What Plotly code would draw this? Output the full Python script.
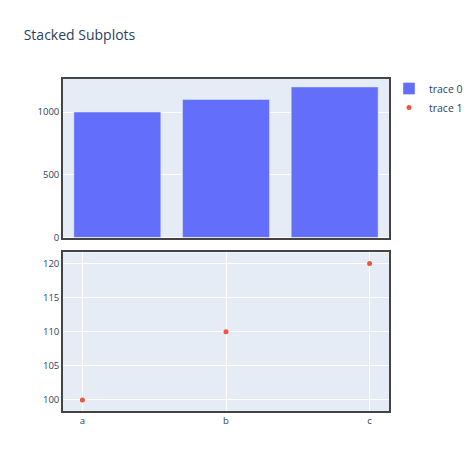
import plotly.graph_objects as go
from plotly.subplots import make_subplots

categories = ["a", "b", "c"]
bar_values = [1000, 1100, 1200]
scatter_values = [100, 110, 120]

fig = make_subplots(rows=2, cols=1, vertical_spacing=0.045)

fig.add_trace(go.Bar(x=categories, y=bar_values, name="trace 0"), row=1, col=1)
fig.add_trace(go.Scatter(x=categories, y=scatter_values, mode="markers",
                         marker=dict(size=5), name="trace 1"), row=2, col=1)

fig.update_xaxes(showline=True, linewidth=1.6, linecolor="#444", mirror=True,
                 gridwidth=0.8)
fig.update_yaxes(showline=True, linewidth=1.6, linecolor="#444", mirror=True,
                 gridwidth=0.8)
fig.update_xaxes(showticklabels=False, showgrid=False, row=1, col=1)

fig.update_layout(
    title=dict(text="Stacked Subplots", font=dict(size=14)),
    font=dict(size=9.5),
    width=474,
    height=474,
    margin=dict(l=63, r=85, t=79, b=63, autoexpand=False),
    legend=dict(x=1.0, y=1.015, itemwidth=30, bgcolor="rgba(0,0,0,0)",
                font=dict(size=10.5)),
)

# page body margin off so the figure sits at the window corner
fig.write_html("out.html", config={"displayModeBar": False},
               post_script="document.body.style.margin='0';")
